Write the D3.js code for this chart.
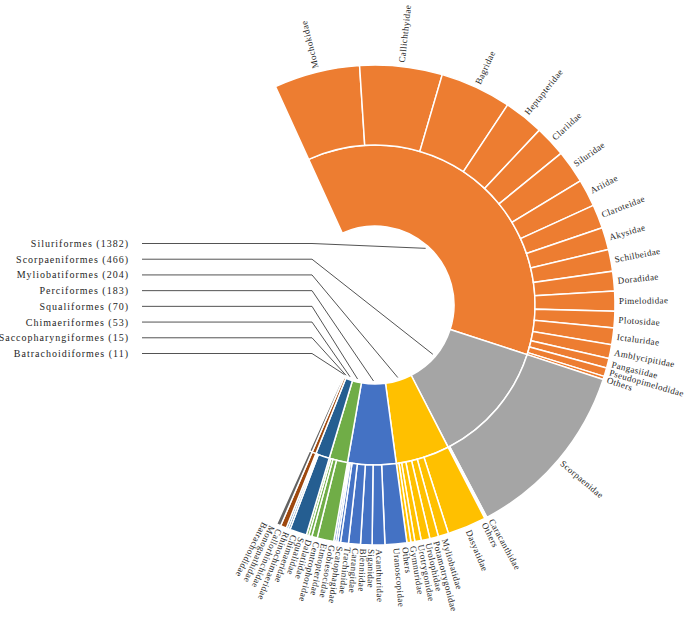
<!DOCTYPE html>
<head>
	<meta charset="utf-8">
	<style>
		body {margin: 0; background: #fff;}
		text {font-family: "Liberation Serif", "Times New Roman", serif; fill: #262626;}
	</style>
	<script src="https://d3js.org/d3.v7.min.js" charset="utf-8"></script>
</head>
<body>
	<script>
		// orders (inner ring) and their counts
		var orders = ["Siluriformes", "Scorpaeniformes", "Myliobatiformes", "Perciformes",
			"Squaliformes", "Chimaeriformes", "Saccopharyngiformes", "Batrachoidiformes"];
		var orderCounts = [1382, 466, 204, 183, 70, 53, 15, 11];

		// families (outer ring), one list per order
		var familyNames = [
			["Mochokidae", "Callichthyidae", "Bagridae", "Heptapteridae", "Clariidae", "Siluridae",
			 "Ariidae", "Claroteidae", "Akysidae", "Schilbeidae", "Doradidae", "Pimelodidae",
			 "Plotosidae", "Ictaluridae", "Amblycipitidae", "Pangasiidae", "Pseudopimelodidae", "Others"],
			["Scorpaenidae", "Caracanthidae", "Others"],
			["Dasyatidae", "Myliobatidae", "Potamotrygonidae", "Urolophidae", "Urotrygonidae", "Gymnuridae", "Others"],
			["Uranoscopidae", "Acanthuridae", "Siganidae", "Blenniidae", "Carangidae", "Trachinidae",
			 "Scatophagidae", "Gobiesocidae"],
			["Etmopteridae", "Centrophoridae", "Dalatiidae", "Squalidae"],
			["Chimaeridae", "Rhinochimaeridae", "Callorhinchidae"],
			["Monognathidae"],
			["Batrachoididae"]
		];
		var familyCounts = [
			[217, 208, 180, 101, 79, 84, 69, 60, 56, 55, 50, 50, 42, 42, 35, 24, 22, 8],
			[460, 3, 3],
			[98, 26, 22, 22, 16, 10, 10],
			[55, 32, 29, 30, 20, 7, 5, 5],
			[42, 14, 8, 6],
			[43, 5, 5],
			[15],
			[11]
		];

		var width = 685, height = 617,
			cx = 375, cy = 305,
			deg = Math.PI / 180;

		var svg = d3.select("body").append("svg")
			.attr("width", width)
			.attr("height", height);

		var g = svg.append("g")
			.attr("transform", "translate(" + cx + "," + cy + ")");

		var color = d3.scaleOrdinal()
			.domain(orders)
			.range(["#ED7D31", "#A5A5A5", "#FFC000", "#4472C4", "#70AD47", "#255E91", "#9E480E", "#636363"]);

		var rootData = {name: "root", children: orders.map(function(o, i) {
			return {name: o, count: orderCounts[i], children: familyNames[i].map(function(f, j) {
				return {name: f, value: familyCounts[i][j]};
			})};
		})};

		var root = d3.hierarchy(rootData).sum(function(d) {return d.value || 0;});
		d3.partition().size([1, 3])(root);

		// the chart only covers part of the circle
		var angle = d3.scaleLinear().domain([0, 1]).range([-24.5 * deg, 204.2 * deg]);
		var radius = d3.scaleLinear().domain([1, 2, 3]).range([79, 160, 240]);

		var arc = d3.arc()
			.startAngle(function(d) {return angle(d.x0);})
			.endAngle(function(d) {return angle(d.x1);})
			.innerRadius(function(d) {return radius(d.y0);})
			.outerRadius(function(d) {return radius(d.y1);});

		g.selectAll("path")
			.data(root.descendants().filter(function(d) {return d.depth > 0;}))
			.enter()
			.append("path")
			.attr("d", arc)
			.attr("fill", function(d) {return color(d.depth == 1 ? d.data.name : d.parent.data.name);})
			.attr("stroke", "#fff")
			.attr("stroke-width", 1.5);

		// family labels, radial, spread apart where they crowd
		var leaves = root.leaves();
		var pos = leaves.map(function(d) {return (angle(d.x0) + angle(d.x1)) / 2;});
		var gap = 1.85 * deg;
		for (var it = 0; it < 300; it++) {
			for (var i = 0; i < pos.length - 1; i++) {
				var diff = pos[i + 1] - pos[i];
				if (diff < gap) {
					var s = (gap - diff) / 2;
					pos[i] -= s;
					pos[i + 1] += s;
				}
			}
		}

		g.selectAll("text.family")
			.data(leaves)
			.enter()
			.append("text")
			.attr("class", "family")
			.attr("transform", function(d, i) {
				return "rotate(" + (pos[i] / deg - 90) + ") translate(" + (radius(3) + 4) + ",0)";
			})
			.attr("dominant-baseline", "central")
			.attr("font-size", "9px")
			.attr("letter-spacing", "0.4px")
			.text(function(d) {return d.data.name;});

		// order labels on the left with leader lines
		var ly = d3.scalePoint().domain(orders).range([243.5, 353.5]);
		var orderNodes = root.children;

		svg.selectAll("polyline")
			.data(orderNodes)
			.enter()
			.append("polyline")
			.attr("points", function(d) {
				var a = (angle(d.x0) + angle(d.x1)) / 2,
					r = radius(1) - 3,
					y = ly(d.data.name);
				return [[142, y], [312, y], [cx + r * Math.sin(a), cy - r * Math.cos(a)]].join(" ");
			})
			.attr("fill", "none")
			.attr("stroke", "#404040")
			.attr("stroke-width", 0.9);

		svg.selectAll("text.order")
			.data(orderNodes)
			.enter()
			.append("text")
			.attr("class", "order")
			.attr("x", 129)
			.attr("y", function(d) {return ly(d.data.name);})
			.attr("text-anchor", "end")
			.attr("dominant-baseline", "central")
			.attr("font-size", "10px")
			.attr("letter-spacing", "1px")
			.text(function(d) {return d.data.name + " (" + d.data.count + ")";});
	</script>
</body>
</html>
